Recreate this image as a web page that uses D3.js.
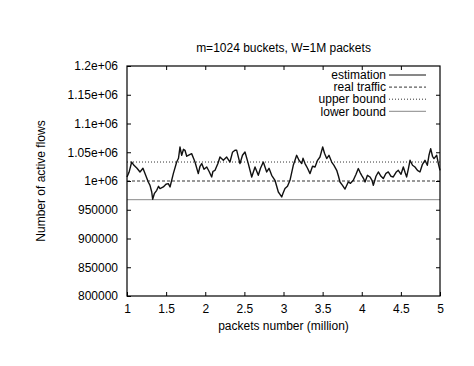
<!DOCTYPE html>
<html>
<head>
<meta charset="utf-8">
<script src="https://cdn.jsdelivr.net/npm/d3@7"></script>
<style>
  body { margin: 0; background: #fff; }
  text { font-family: "Liberation Sans", Arial, sans-serif; fill: #000; }
</style>
</head>
<body>
<div id="vis"></div>
<script>
// Data
const x_ticks = [1, 1.5, 2, 2.5, 3, 3.5, 4, 4.5, 5];
const y_ticks = [800000, 850000, 900000, 950000, 1000000, 1050000, 1100000, 1150000, 1200000];
const y_tick_labels = ['800000', '850000', '900000', '950000', '1e+06', '1.05e+06', '1.1e+06', '1.15e+06', '1.2e+06'];

const real_traffic = 1000000;
const upper_bound = 1033000;
const lower_bound = 967500;

// estimation series: packets (million) / active flows
const est_x = [1.000, 1.026, 1.060, 1.089, 1.128, 1.166, 1.204, 1.230, 1.272, 1.294, 1.316, 1.328, 1.351, 1.380, 1.403, 1.422, 1.464, 1.498, 1.528, 1.550,
    1.592, 1.635, 1.658, 1.677, 1.699, 1.722, 1.741, 1.763, 1.783, 1.826, 1.850, 1.869, 1.911, 1.933, 1.955, 1.984, 2.019, 2.048, 2.082, 2.099,
    2.125, 2.163, 2.188, 2.231, 2.274, 2.316, 2.348, 2.380, 2.402, 2.444, 2.476, 2.508, 2.550, 2.594, 2.636, 2.678, 2.706, 2.742, 2.785, 2.815,
    2.849, 2.891, 2.934, 2.955, 2.977, 2.994, 3.019, 3.051, 3.083, 3.125, 3.147, 3.168, 3.198, 3.233, 3.249, 3.275, 3.307, 3.339, 3.371, 3.403,
    3.435, 3.466, 3.501, 3.524, 3.552, 3.581, 3.616, 3.645, 3.680, 3.703, 3.722, 3.754, 3.786, 3.828, 3.856, 3.892, 3.927, 3.956, 3.978, 3.999,
    4.022, 4.042, 4.073, 4.105, 4.131, 4.148, 4.182, 4.212, 4.246, 4.275, 4.310, 4.339, 4.374, 4.403, 4.438, 4.467, 4.502, 4.531, 4.553, 4.574,
    4.597, 4.617, 4.649, 4.680, 4.712, 4.744, 4.776, 4.808, 4.838, 4.859, 4.881, 4.904, 4.923, 4.958, 4.981, 5.000];
const est_y = [1007000, 1015100, 1033000, 1027300, 1022100, 1015700, 1022100, 1012900, 998300, 992500, 980900, 968200, 978600, 983800, 990800, 986800, 989600, 994300, 995500, 989600,
    1012900, 1033000, 1039500, 1059100, 1044700, 1055100, 1053400, 1043000, 1044700, 1047600, 1039500, 1033000, 1012900, 1025600, 1030300, 1020300, 1024300, 1016900, 1007000, 1016900,
    1018600, 1030800, 1041700, 1036000, 1041700, 1033000, 1049900, 1053400, 1053400, 1030300, 1044700, 1050400, 1030300, 1007000, 1024300, 1009900, 1022100, 1033000, 1015700, 1022100,
    1009900, 1001200, 980900, 976900, 972200, 978600, 986800, 990800, 1001200, 1027300, 1036000, 1044700, 1036000, 1030300, 1039500, 1030300, 1022100, 1012900, 1025600, 1024300,
    1036000, 1041700, 1059100, 1048200, 1039000, 1044700, 1033000, 1027300, 1018600, 1008200, 998300, 992500, 986000, 998300, 996000, 1001200, 1011700, 1021600, 1015100, 1009900,
    1004700, 998300, 1009900, 1007000, 1001200, 992500, 1008200, 1015700, 1008200, 1004200, 1013400, 1015700, 1008200, 1007000, 1015100, 1018600, 1011700, 1024300, 1015100, 1007000,
    1022100, 1036000, 1027300, 1024300, 1018600, 1015700, 1029000, 1036000, 1027300, 1044700, 1056300, 1043000, 1039000, 1044700, 1029000, 1018600];

const legend_labels = ['estimation', 'real traffic', 'upper bound', 'lower bound'];

// Canvas
const width = 474;
const height = 366;
const margin = {top: 66, right: 34, bottom: 70, left: 127};
const font_size = 12;

const svg = d3.select('#vis').append('svg')
    .attr('width', width)
    .attr('height', height);

const x = d3.scaleLinear().domain([1, 5]).range([margin.left, width - margin.right]);
const y = d3.scaleLinear().domain([800000, 1200000]).range([height - margin.bottom, margin.top]);

const estimation = est_x.map((d, i) => [d, est_y[i]]);

// line styles, shared by plot and legend
const styles = [
    {stroke: '#111', width: 1.4, dash: null},
    {stroke: '#333', width: 1, dash: '3,2'},
    {stroke: '#333', width: 1, dash: '1,2'},
    {stroke: '#888', width: 1, dash: null}
];

// horizontal reference lines
const refs = [[real_traffic, styles[1]], [upper_bound, styles[2]], [lower_bound, styles[3]]];
svg.selectAll('.ref')
    .data(refs)
    .join('line')
    .attr('class', 'ref')
    .attr('x1', x(1)).attr('x2', x(5))
    .attr('y1', d => y(d[0])).attr('y2', d => y(d[0]))
    .attr('stroke', d => d[1].stroke)
    .attr('stroke-width', d => d[1].width)
    .attr('stroke-dasharray', d => d[1].dash);

// estimation
svg.append('path')
    .datum(estimation)
    .attr('fill', 'none')
    .attr('stroke', styles[0].stroke)
    .attr('stroke-width', styles[0].width)
    .attr('stroke-linejoin', 'round')
    .attr('d', d3.line().x(d => x(d[0])).y(d => y(d[1])));

// axes, ticks point inward and are mirrored
const tick_len = 4;
const fmt = v => y_tick_labels[y_ticks.indexOf(v)];

svg.append('g')
    .attr('transform', `translate(0,${y.range()[0]})`)
    .call(d3.axisBottom(x).tickValues(x_ticks).tickSizeInner(-tick_len).tickSizeOuter(0).tickPadding(8).tickFormat(d3.format('')))
    .call(g => g.select('.domain').remove());

svg.append('g')
    .attr('transform', `translate(0,${y.range()[1]})`)
    .call(d3.axisTop(x).tickValues(x_ticks.slice(1, -1)).tickSizeInner(-tick_len).tickSizeOuter(0).tickFormat(''))
    .call(g => g.select('.domain').remove());

svg.append('g')
    .attr('transform', `translate(${x.range()[0]},0)`)
    .call(d3.axisLeft(y).tickValues(y_ticks).tickSizeInner(-tick_len).tickSizeOuter(0).tickPadding(9).tickFormat(fmt))
    .call(g => g.select('.domain').remove());

svg.append('g')
    .attr('transform', `translate(${x.range()[1]},0)`)
    .call(d3.axisRight(y).tickValues(y_ticks.slice(1, -1)).tickSizeInner(-tick_len).tickSizeOuter(0).tickFormat(''))
    .call(g => g.select('.domain').remove());

svg.selectAll('.tick line').attr('stroke', '#000');
svg.selectAll('.tick text')
    .attr('font-size', font_size)
    .attr('font-family', '"Liberation Sans", Arial, sans-serif');

// frame
svg.append('rect')
    .attr('x', x.range()[0]).attr('y', y.range()[1])
    .attr('width', x.range()[1] - x.range()[0])
    .attr('height', y.range()[0] - y.range()[1])
    .attr('fill', 'none')
    .attr('stroke', '#000')
    .attr('stroke-width', 1.2);

// title + labels
const cx = (x.range()[0] + x.range()[1]) / 2;
svg.append('text')
    .attr('x', cx).attr('y', 52)
    .attr('text-anchor', 'middle')
    .attr('font-size', font_size)
    .text('m=1024 buckets, W=1M packets');

svg.append('text')
    .attr('x', cx).attr('y', 330)
    .attr('text-anchor', 'middle')
    .attr('font-size', font_size)
    .text('packets number (million)');

svg.append('text')
    .attr('transform', `translate(45,${(y.range()[0] + y.range()[1]) / 2}) rotate(-90)`)
    .attr('text-anchor', 'middle')
    .attr('font-size', font_size)
    .text('Number of active flows');

// legend
const legend = svg.append('g');
const rows = legend.selectAll('g')
    .data(legend_labels)
    .join('g')
    .attr('transform', (d, i) => `translate(0,${75 + i * 12.1})`);

rows.append('text')
    .attr('x', 386)
    .attr('dy', '0.35em')
    .attr('text-anchor', 'end')
    .attr('font-size', font_size)
    .text(d => d);

rows.append('line')
    .attr('x1', 389).attr('x2', 426)
    .attr('stroke', (d, i) => styles[i].stroke)
    .attr('stroke-width', 1)
    .attr('stroke-dasharray', (d, i) => styles[i].dash);
</script>
</body>
</html>
